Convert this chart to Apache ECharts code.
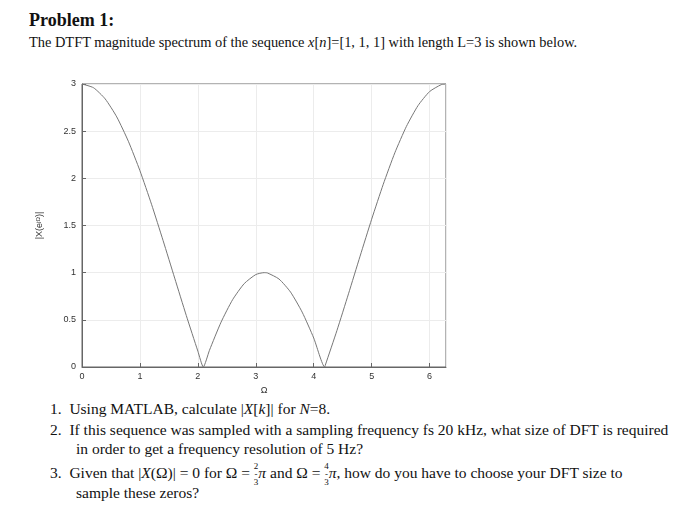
<!DOCTYPE html>
<html>
<head>
<meta charset="utf-8">
<script src="https://cdn.jsdelivr.net/npm/echarts@6/dist/echarts.min.js"></script>
<style>
  body { margin: 0; background: #fff; font-family: 'Liberation Serif', serif; color: #111; }
  .t { position: absolute; white-space: nowrap; }
  #chart { position: absolute; left: 0; top: 60px; width: 700px; height: 340px; }
  .frac { display: inline-block; vertical-align: middle; text-align: center; font-size: 9px; line-height: 8px; }
</style>
</head>
<body>
<div class="t" style="left:29px;top:10px;font-size:18px;font-weight:bold;">Problem 1:</div>
<div class="t" style="left:29px;top:34px;font-size:14.4px;">The DTFT magnitude spectrum of the sequence <i>x</i>[<i>n</i>]=[1, 1, 1] with length L=3 is shown below.</div>
<div id="chart"></div>
<div class="t" style="left:50px;top:400px;font-size:15.5px;">1.&nbsp; Using MATLAB, calculate |<i>X</i>[<i>k</i>]| for <i>N</i>=8.</div>
<div class="t" style="left:50px;top:421px;font-size:15.5px;">2.&nbsp; If this sequence was sampled with a sampling frequency fs 20 kHz, what size of DFT is required</div>
<div class="t" style="left:76px;top:440px;font-size:15.5px;">in order to get a frequency resolution of 5 Hz?</div>
<div class="t" style="left:50px;top:462px;font-size:15.5px;">3.&nbsp; Given that |<i>X</i>(Ω)| = 0 for Ω = <span class="frac">2<br>-<br>3</span><i>π</i> and Ω = <span class="frac">4<br>-<br>3</span><i>π</i>, how do you have to choose your DFT size to</div>
<div class="t" style="left:76px;top:484px;font-size:15.5px;">sample these zeros?</div>
<script>
const omega = [0, 0.2, 0.4, 0.6, 0.8, 1.0, 1.2, 1.4, 1.6, 1.8, 2.0, 2.094, 2.2, 2.4, 2.6, 2.8, 3.0, 3.1416,
  3.2, 3.4, 3.6, 3.8, 4.0, 4.189, 4.2, 4.4, 4.6, 4.8, 5.0, 5.2, 5.4, 5.6, 5.8, 6.0, 6.2, 6.283];
const magnitude = [3, 2.96, 2.842, 2.651, 2.393, 2.081, 1.725, 1.34, 0.942, 0.546, 0.168, 0, 0.177, 0.475,
  0.714, 0.884, 0.98, 1, 0.997, 0.933, 0.794, 0.582, 0.307, 0, 0.02, 0.386, 0.776, 1.175, 1.567, 1.937,
  2.271, 2.551, 2.771, 2.92, 2.993, 3];
const xTicks = [0, 1, 2, 3, 4, 5, 6];
const yTicks = [0, 0.5, 1, 1.5, 2, 2.5, 3];

const chart = echarts.init(document.getElementById('chart'));
const labelStyle = { color: '#333', fontSize: 9, fontFamily: 'Liberation Sans' };
chart.setOption({
  animation: false,
  grid: { left: 82, top: 24, width: 364, height: 286, show: true, borderColor: '#666', borderWidth: 1 },
  xAxis: {
    type: 'value', min: 0, max: 6.283, interval: 1,
    name: 'Ω', nameLocation: 'middle', nameGap: 19,
    nameTextStyle: { color: '#333', fontSize: 9 },
    axisLine: { lineStyle: { color: '#666' } },
    axisTick: { inside: true, length: 4, lineStyle: { color: '#666' } },
    axisLabel: Object.assign({ margin: 5, showMaxLabel: false,
      formatter: v => xTicks.includes(v) ? String(v) : '' }, labelStyle),
    splitLine: { lineStyle: { color: '#ececec' } }
  },
  yAxis: {
    type: 'value', min: 0, max: 3, interval: 0.5,
    name: '|X(e{s|jΩ})|', nameLocation: 'middle', nameGap: 38,
    nameTextStyle: { color: '#333', fontSize: 9, rich: { s: { fontSize: 6, verticalAlign: 'top', color: '#333' } } },
    axisLine: { show: true, lineStyle: { color: '#666' } },
    axisTick: { show: true, inside: true, length: 4, lineStyle: { color: '#666' } },
    axisLabel: Object.assign({ margin: 6, formatter: v => yTicks.includes(v) ? String(v) : '' }, labelStyle),
    splitLine: { lineStyle: { color: '#ececec' } }
  },
  series: [{
    type: 'line', showSymbol: false, smooth: 0.2,
    data: omega.map((w, i) => [w, magnitude[i]]),
    lineStyle: { color: '#777', width: 1 }
  }]
});
</script>
</body>
</html>
